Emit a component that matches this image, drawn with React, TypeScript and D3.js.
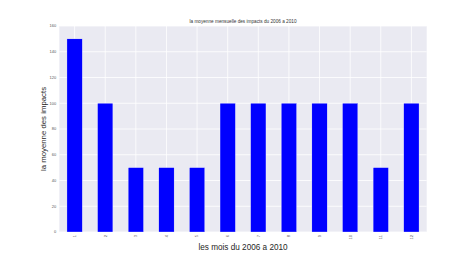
import React from "react";
import * as d3 from "d3";

const months = ["1", "2", "3", "4", "5", "6", "7", "8", "9", "10", "11", "12"];
const values = [150, 100, 50, 50, 50, 100, 100, 100, 100, 100, 50, 100];
const yTicks = [0, 20, 40, 60, 80, 100, 120, 140, 160];

const W = 474, H = 258;
const m = { left: 59.3, right: 474 - 426.7, top: 26, bottom: 258 - 232 };

export default function App() {
  const x = d3.scaleBand<string>().domain(months).range([m.left, W - m.right]).paddingInner(0).paddingOuter(0);
  const y = d3.scaleLinear().domain([0, 160]).range([H - m.bottom, m.top]);
  const bw = x.bandwidth() * 0.5;
  const font = "'Liberation Sans', Arial, sans-serif";
  return (
    <svg width={W} height={H} style={{ position: "absolute", left: 0, top: 0 }} fontFamily={font}>
      <rect x={0} y={0} width={W} height={H} fill="#ffffff" />
      <rect x={m.left} y={m.top} width={W - m.left - m.right} height={H - m.top - m.bottom} fill="#eaeaf2" />
      {yTicks.map((t) => (
        <line key={"gy" + t} x1={m.left} x2={W - m.right} y1={y(t)} y2={y(t)} stroke="#ffffff" strokeWidth={0.8} />
      ))}
      {months.map((c) => (
        <line key={"gx" + c} x1={x(c)! + x.bandwidth() / 2} x2={x(c)! + x.bandwidth() / 2} y1={m.top} y2={H - m.bottom} stroke="#ffffff" strokeWidth={0.8} />
      ))}
      {values.map((v, i) => (
        <rect key={"b" + i} x={x(months[i])! + x.bandwidth() / 2 - bw / 2} y={y(v)} width={bw} height={y(0) - y(v)} fill="#0000ff" stroke="#ffffff" strokeWidth={0.3} />
      ))}
      {yTicks.map((t) => (
        <text key={"ty" + t} x={m.left - 3} y={y(t)} dy="0.35em" textAnchor="end" fontSize={4} fill="#555">{t}</text>
      ))}
      {months.map((c) => {
        const cx = x(c)! + x.bandwidth() / 2;
        return (
          <text key={"tx" + c} transform={`translate(${cx},${H - m.bottom + 3}) rotate(-90)`} textAnchor="end" dy="0.35em" fontSize={4} fill="#555">{c}</text>
        );
      })}
      <text x={(m.left + W - m.right) / 2} y={22.5} textAnchor="middle" fontSize={4.7} fill="#333">la moyenne mensuelle des impacts du 2006 a 2010</text>
      <text x={(m.left + W - m.right) / 2} y={250} textAnchor="middle" fontSize={8.2} fill="#262626">les mois du 2006 a 2010</text>
      <text transform={`translate(45.8,${(m.top + H - m.bottom) / 2}) rotate(-90)`} textAnchor="middle" fontSize={7.8} fill="#262626">la moyenne des impacts</text>
    </svg>
  );
}
